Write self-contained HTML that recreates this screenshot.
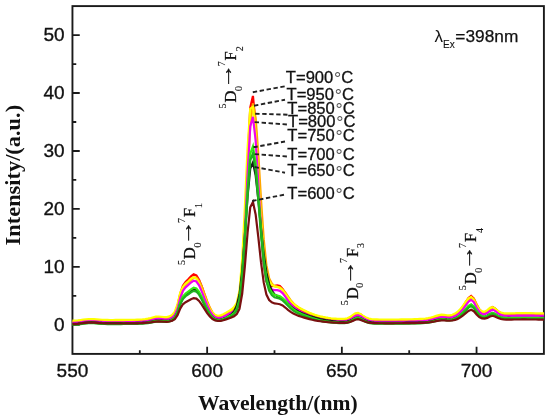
<!DOCTYPE html>
<html><head><meta charset="utf-8"><style>
html,body{margin:0;padding:0;background:#fff;}
svg{display:block;}
.ax text{font-family:"Liberation Sans",Arial,sans-serif;font-size:19px;fill:#111;stroke:#111;stroke-width:0.35px;}
.tl text{font-family:"Liberation Sans",Arial,sans-serif;font-size:16.6px;fill:#111;stroke:#111;stroke-width:0.3px;}
.deg{font-size:18px;fill:#555;stroke:none;}
.tr{font-family:"Liberation Serif","Times New Roman",serif;font-size:16.5px;fill:#111;stroke:#111;stroke-width:0.3px;}
.tr .s{font-size:10px;stroke-width:0.1px;}
.tr .ar{font-size:20px;}
.ttl{font-family:"Liberation Serif","Times New Roman",serif;font-weight:bold;font-size:22px;fill:#111;}
.lam{font-family:"Liberation Sans",Arial,sans-serif;font-size:17px;fill:#111;stroke:#111;stroke-width:0.25px;}
</style></head><body>
<svg width="550" height="418" viewBox="0 0 550 418">
<rect x="0" y="0" width="550" height="418" fill="#fff"/>
<rect x="72.45" y="6.1" width="471.45" height="347.8" fill="none" stroke="#1a1a1a" stroke-width="1.9"/>
<path d="M72.45,324.90h7.3M72.45,266.93h7.3M72.45,208.96h7.3M72.45,150.99h7.3M72.45,93.02h7.3M72.45,35.05h7.3M72.45,295.91h3.8M72.45,237.94h3.8M72.45,179.97h3.8M72.45,122.00h3.8M72.45,64.03h3.8M207.15,353.9v-7.2M341.85,353.9v-7.2M476.55,353.9v-7.2M139.80,353.9v-3.7M274.50,353.9v-3.7M409.20,353.9v-3.7" stroke="#1a1a1a" stroke-width="1.8" fill="none"/>
<g><path d="M72.45,321.97 L75.14,322.04 L77.84,321.84 L80.53,321.46 L83.23,321.08 L85.92,320.77 L88.61,320.54 L91.31,320.45 L94.00,320.53 L96.70,320.73 L99.39,320.97 L102.08,321.18 L104.78,321.32 L107.47,321.39 L110.17,321.42 L112.86,321.42 L115.55,321.41 L118.25,321.39 L120.94,321.37 L123.64,321.34 L126.33,321.31 L129.02,321.27 L131.72,321.22 L134.41,321.16 L137.11,321.07 L139.80,320.94 L142.49,320.73 L145.19,320.42 L147.88,319.96 L150.58,319.33 L153.27,318.58 L155.96,317.89 L158.66,317.59 L161.35,317.80 L164.05,318.17 L166.74,318.24 L169.43,317.69 L172.13,316.24 L174.82,313.20 L177.52,306.01 L180.21,293.69 L182.90,285.76 L185.60,281.88 L188.29,279.23 L190.99,276.44 L193.68,274.30 L196.37,275.32 L199.07,279.63 L201.76,286.41 L204.46,294.37 L207.15,302.07 L209.84,308.44 L212.54,312.99 L215.23,315.65 L217.93,316.69 L220.62,316.46 L223.31,315.36 L226.01,313.78 L228.70,312.11 L231.40,310.69 L234.09,309.43 L236.78,308.13 L239.48,303.78 L242.17,281.48 L244.87,232.29 L247.56,164.29 L250.25,107.55 L252.95,95.92 L255.64,124.81 L258.34,175.73 L261.03,227.33 L263.72,263.89 L266.42,281.53 L269.11,285.94 L271.81,286.06 L274.50,285.80 L277.19,285.38 L279.89,286.06 L282.58,288.83 L285.28,293.21 L287.97,297.86 L290.66,301.83 L293.36,304.88 L296.05,307.21 L298.75,309.13 L301.44,310.82 L304.13,312.36 L306.83,313.75 L309.52,315.00 L312.22,316.10 L314.91,317.05 L317.60,317.86 L320.30,318.53 L322.99,319.09 L325.69,319.53 L328.38,319.88 L331.07,320.15 L333.77,320.35 L336.46,320.48 L339.16,320.56 L341.85,320.55 L344.54,320.38 L347.24,319.86 L349.93,318.68 L352.63,316.70 L355.32,314.47 L358.01,313.57 L360.71,314.71 L363.40,316.74 L366.10,318.57 L368.79,319.78 L371.48,320.43 L374.18,320.73 L376.87,320.87 L379.57,320.93 L382.26,320.97 L384.95,320.99 L387.65,321.00 L390.34,320.99 L393.04,320.98 L395.73,320.96 L398.42,320.93 L401.12,320.89 L403.81,320.84 L406.51,320.79 L409.20,320.73 L411.89,320.65 L414.59,320.56 L417.28,320.46 L419.98,320.34 L422.67,320.17 L425.36,319.92 L428.06,319.52 L430.75,318.91 L433.45,318.07 L436.14,317.11 L438.83,316.23 L441.53,315.67 L444.22,315.68 L446.92,316.12 L449.61,316.32 L452.30,315.88 L455.00,314.73 L457.69,312.83 L460.39,310.11 L463.08,306.50 L465.77,302.21 L468.47,298.12 L471.16,295.95 L473.86,298.65 L476.55,304.72 L479.24,309.44 L481.94,311.89 L484.63,312.35 L487.33,311.02 L490.02,308.51 L492.71,307.09 L495.41,308.77 L498.10,311.38 L500.80,313.09 L503.49,313.81 L506.18,314.02 L508.88,314.05 L511.57,314.02 L514.27,313.99 L516.96,313.95 L519.65,313.92 L522.35,313.91 L525.04,313.91 L527.74,313.92 L530.43,313.95 L533.12,313.97 L535.82,314.00 L538.51,314.02 L541.21,314.04 L543.90,314.07" fill="none" stroke="#ff0000" stroke-width="2.2"/><path d="M72.45,321.97 L75.14,322.05 L77.84,321.85 L80.53,321.47 L83.23,321.09 L85.92,320.77 L88.61,320.55 L91.31,320.46 L94.00,320.54 L96.70,320.73 L99.39,320.98 L102.08,321.19 L104.78,321.33 L107.47,321.40 L110.17,321.43 L112.86,321.43 L115.55,321.42 L118.25,321.41 L120.94,321.39 L123.64,321.36 L126.33,321.34 L129.02,321.30 L131.72,321.26 L134.41,321.20 L137.11,321.13 L139.80,321.02 L142.49,320.85 L145.19,320.59 L147.88,320.20 L150.58,319.66 L153.27,318.98 L155.96,318.29 L158.66,317.87 L161.35,317.94 L164.05,318.29 L166.74,318.47 L169.43,318.16 L172.13,317.09 L174.82,314.82 L177.52,309.63 L180.21,298.98 L182.90,289.58 L185.60,285.23 L188.29,282.60 L190.99,280.06 L193.68,277.62 L196.37,277.56 L199.07,280.74 L201.76,286.51 L204.46,293.79 L207.15,301.21 L209.84,307.63 L212.54,312.43 L215.23,315.44 L217.93,316.84 L220.62,316.94 L223.31,316.11 L226.01,314.71 L228.70,313.10 L231.40,311.51 L234.09,309.66 L236.78,306.18 L239.48,299.77 L242.17,278.93 L244.87,236.05 L247.56,177.68 L250.25,124.82 L252.95,103.45 L255.64,117.79 L258.34,154.61 L261.03,199.76 L263.72,239.15 L266.42,265.18 L269.11,278.18 L271.81,283.54 L274.50,286.17 L277.19,286.91 L279.89,287.54 L282.58,289.27 L285.28,292.48 L287.97,296.39 L290.66,300.14 L293.36,303.27 L296.05,305.72 L298.75,307.67 L301.44,309.31 L304.13,310.78 L306.83,312.13 L309.52,313.37 L312.22,314.51 L314.91,315.54 L317.60,316.46 L320.30,317.26 L322.99,317.95 L325.69,318.54 L328.38,319.03 L331.07,319.44 L333.77,319.76 L336.46,320.01 L339.16,320.18 L341.85,320.28 L344.54,320.25 L347.24,319.94 L349.93,319.09 L352.63,317.48 L355.32,315.37 L358.01,313.99 L360.71,314.59 L363.40,316.39 L366.10,318.24 L368.79,319.56 L371.48,320.32 L374.18,320.68 L376.87,320.84 L379.57,320.92 L382.26,320.97 L384.95,320.99 L387.65,321.00 L390.34,321.00 L393.04,320.99 L395.73,320.98 L398.42,320.95 L401.12,320.92 L403.81,320.88 L406.51,320.83 L409.20,320.78 L411.89,320.71 L414.59,320.63 L417.28,320.54 L419.98,320.43 L422.67,320.29 L425.36,320.09 L428.06,319.76 L430.75,319.25 L433.45,318.53 L436.14,317.64 L438.83,316.78 L441.53,316.14 L444.22,315.96 L446.92,316.32 L449.61,316.63 L452.30,316.41 L455.00,315.53 L457.69,313.98 L460.39,311.67 L463.08,308.52 L465.77,304.64 L468.47,300.62 L471.16,297.86 L473.86,298.67 L476.55,304.08 L479.24,309.08 L481.94,312.00 L484.63,312.97 L487.33,312.21 L490.02,310.05 L492.71,308.08 L495.41,308.86 L498.10,311.32 L500.80,313.24 L503.49,314.16 L506.18,314.45 L508.88,314.51 L511.57,314.50 L514.27,314.46 L516.96,314.43 L519.65,314.40 L522.35,314.38 L525.04,314.38 L527.74,314.39 L530.43,314.41 L533.12,314.43 L535.82,314.46 L538.51,314.48 L541.21,314.50 L543.90,314.52" fill="none" stroke="#ffa500" stroke-width="2.2"/><path d="M72.45,320.53 L75.14,320.60 L77.84,320.40 L80.53,320.02 L83.23,319.64 L85.92,319.32 L88.61,319.10 L91.31,319.01 L94.00,319.09 L96.70,319.29 L99.39,319.53 L102.08,319.74 L104.78,319.88 L107.47,319.95 L110.17,319.98 L112.86,319.98 L115.55,319.97 L118.25,319.95 L120.94,319.93 L123.64,319.91 L126.33,319.88 L129.02,319.84 L131.72,319.80 L134.41,319.73 L137.11,319.65 L139.80,319.52 L142.49,319.31 L145.19,319.01 L147.88,318.56 L150.58,317.96 L153.27,317.27 L155.96,316.69 L158.66,316.52 L161.35,316.77 L164.05,317.08 L166.74,317.05 L169.43,316.42 L172.13,314.88 L174.82,311.64 L177.52,304.00 L180.21,292.78 L182.90,286.75 L185.60,283.61 L188.29,281.23 L190.99,278.68 L193.68,277.16 L196.37,278.73 L199.07,283.15 L201.76,289.63 L204.46,296.90 L207.15,303.70 L209.84,309.17 L212.54,312.94 L215.23,315.04 L217.93,315.73 L220.62,315.33 L223.31,314.21 L226.01,312.72 L228.70,311.15 L231.40,309.57 L234.09,307.11 L236.78,302.78 L239.48,290.74 L242.17,259.12 L244.87,206.98 L247.56,148.36 L250.25,108.67 L252.95,106.93 L255.64,133.83 L258.34,176.60 L261.03,220.20 L263.72,253.31 L266.42,272.46 L269.11,280.96 L271.81,284.82 L274.50,286.30 L277.19,286.83 L279.89,287.83 L282.58,290.29 L285.28,293.84 L287.97,297.64 L290.66,301.00 L293.36,303.68 L296.05,305.78 L298.75,307.49 L301.44,308.98 L304.13,310.34 L306.83,311.60 L309.52,312.76 L312.22,313.81 L314.91,314.75 L317.60,315.58 L320.30,316.30 L322.99,316.92 L325.69,317.44 L328.38,317.87 L331.07,318.22 L333.77,318.50 L336.46,318.70 L339.16,318.84 L341.85,318.88 L344.54,318.74 L347.24,318.22 L349.93,317.04 L352.63,315.16 L355.32,313.26 L358.01,312.86 L360.71,314.17 L363.40,316.05 L366.10,317.61 L368.79,318.61 L371.48,319.12 L374.18,319.35 L376.87,319.46 L379.57,319.52 L382.26,319.55 L384.95,319.57 L387.65,319.57 L390.34,319.57 L393.04,319.56 L395.73,319.54 L398.42,319.51 L401.12,319.47 L403.81,319.43 L406.51,319.38 L409.20,319.32 L411.89,319.25 L414.59,319.17 L417.28,319.08 L419.98,318.96 L422.67,318.80 L425.36,318.55 L428.06,318.15 L430.75,317.55 L433.45,316.76 L436.14,315.89 L438.83,315.14 L441.53,314.70 L444.22,314.84 L446.92,315.24 L449.61,315.31 L452.30,314.79 L455.00,313.61 L457.69,311.76 L460.39,309.12 L463.08,305.69 L465.77,301.75 L468.47,298.26 L471.16,296.84 L473.86,300.38 L476.55,305.84 L479.24,309.71 L481.94,311.55 L484.63,311.64 L487.33,310.14 L490.02,307.83 L492.71,307.08 L495.41,308.99 L498.10,311.26 L500.80,312.62 L503.49,313.14 L506.18,313.28 L508.88,313.29 L511.57,313.26 L514.27,313.23 L516.96,313.20 L519.65,313.18 L522.35,313.16 L525.04,313.17 L527.74,313.18 L530.43,313.21 L533.12,313.23 L535.82,313.25 L538.51,313.27 L541.21,313.29 L543.90,313.32" fill="none" stroke="#ffff00" stroke-width="2.2"/><path d="M72.45,322.85 L75.14,322.92 L77.84,322.72 L80.53,322.34 L83.23,321.96 L85.92,321.65 L88.61,321.42 L91.31,321.33 L94.00,321.41 L96.70,321.61 L99.39,321.85 L102.08,322.06 L104.78,322.20 L107.47,322.28 L110.17,322.30 L112.86,322.31 L115.55,322.30 L118.25,322.28 L120.94,322.26 L123.64,322.24 L126.33,322.21 L129.02,322.18 L131.72,322.13 L134.41,322.08 L137.11,322.00 L139.80,321.88 L142.49,321.70 L145.19,321.42 L147.88,321.02 L150.58,320.46 L153.27,319.79 L155.96,319.18 L158.66,318.92 L161.35,319.11 L164.05,319.43 L166.74,319.49 L169.43,319.01 L172.13,317.73 L174.82,315.04 L177.52,308.69 L180.21,297.79 L182.90,290.78 L185.60,287.35 L188.29,285.00 L190.99,282.54 L193.68,280.64 L196.37,281.54 L199.07,285.35 L201.76,291.35 L204.46,298.39 L207.15,305.19 L209.84,310.83 L212.54,314.85 L215.23,317.21 L217.93,318.12 L220.62,317.92 L223.31,316.94 L226.01,315.54 L228.70,314.05 L231.40,312.70 L234.09,311.18 L236.78,308.81 L239.48,302.33 L242.17,278.98 L244.87,233.04 L247.56,173.79 L250.25,126.43 L252.95,116.79 L255.64,140.35 L258.34,182.85 L261.03,227.67 L263.72,261.62 L266.42,280.32 L269.11,287.30 L271.81,289.44 L274.50,290.18 L277.19,290.21 L279.89,290.86 L282.58,293.11 L285.28,296.68 L287.97,300.60 L290.66,304.06 L293.36,306.79 L296.05,308.89 L298.75,310.60 L301.44,312.10 L304.13,313.45 L306.83,314.70 L309.52,315.83 L312.22,316.84 L314.91,317.74 L317.60,318.52 L320.30,319.19 L322.99,319.75 L325.69,320.21 L328.38,320.58 L331.07,320.88 L333.77,321.11 L336.46,321.28 L339.16,321.38 L341.85,321.40 L344.54,321.29 L347.24,320.85 L349.93,319.82 L352.63,318.08 L355.32,316.12 L358.01,315.33 L360.71,316.34 L363.40,318.14 L366.10,319.76 L368.79,320.84 L371.48,321.41 L374.18,321.68 L376.87,321.80 L379.57,321.86 L382.26,321.90 L384.95,321.91 L387.65,321.92 L390.34,321.92 L393.04,321.91 L395.73,321.89 L398.42,321.86 L401.12,321.83 L403.81,321.79 L406.51,321.74 L409.20,321.69 L411.89,321.62 L414.59,321.54 L417.28,321.45 L419.98,321.34 L422.67,321.20 L425.36,320.97 L428.06,320.62 L430.75,320.08 L433.45,319.34 L436.14,318.49 L438.83,317.72 L441.53,317.21 L444.22,317.23 L446.92,317.62 L449.61,317.79 L452.30,317.40 L455.00,316.38 L457.69,314.71 L460.39,312.30 L463.08,309.11 L465.77,305.32 L468.47,301.70 L471.16,299.79 L473.86,302.17 L476.55,307.54 L479.24,311.71 L481.94,313.88 L484.63,314.29 L487.33,313.11 L490.02,310.89 L492.71,309.63 L495.41,311.12 L498.10,313.42 L500.80,314.94 L503.49,315.58 L506.18,315.76 L508.88,315.79 L511.57,315.77 L514.27,315.73 L516.96,315.70 L519.65,315.68 L522.35,315.66 L525.04,315.66 L527.74,315.68 L530.43,315.70 L533.12,315.72 L535.82,315.74 L538.51,315.76 L541.21,315.78 L543.90,315.81" fill="none" stroke="#f000f0" stroke-width="2.2"/><path d="M72.45,323.73 L75.14,323.80 L77.84,323.60 L80.53,323.22 L83.23,322.84 L85.92,322.53 L88.61,322.31 L91.31,322.22 L94.00,322.30 L96.70,322.50 L99.39,322.74 L102.08,322.95 L104.78,323.09 L107.47,323.17 L110.17,323.20 L112.86,323.20 L115.55,323.20 L118.25,323.18 L120.94,323.17 L123.64,323.15 L126.33,323.13 L129.02,323.10 L131.72,323.07 L134.41,323.02 L137.11,322.96 L139.80,322.86 L142.49,322.72 L145.19,322.49 L147.88,322.16 L150.58,321.71 L153.27,321.18 L155.96,320.69 L158.66,320.48 L161.35,320.62 L164.05,320.88 L166.74,320.94 L169.43,320.55 L172.13,319.51 L174.82,317.34 L177.52,312.22 L180.21,303.43 L182.90,297.77 L185.60,295.01 L188.29,293.12 L190.99,291.13 L193.68,289.60 L196.37,290.32 L199.07,293.39 L201.76,298.23 L204.46,303.91 L207.15,309.40 L209.84,313.94 L212.54,317.18 L215.23,319.08 L217.93,319.82 L220.62,319.65 L223.31,318.85 L226.01,317.67 L228.70,316.27 L231.40,314.48 L234.09,311.37 L236.78,305.52 L239.48,294.55 L242.17,271.10 L244.87,235.41 L247.56,196.54 L250.25,168.45 L252.95,162.58 L255.64,175.22 L258.34,199.69 L261.03,228.30 L263.72,253.85 L266.42,272.38 L269.11,283.79 L271.81,290.54 L274.50,294.31 L277.19,296.03 L279.89,297.17 L282.58,298.78 L285.28,301.08 L287.97,303.73 L290.66,306.30 L293.36,308.51 L296.05,310.30 L298.75,311.74 L301.44,312.95 L304.13,314.02 L306.83,315.01 L309.52,315.93 L312.22,316.79 L314.91,317.59 L317.60,318.32 L320.30,318.99 L322.99,319.58 L325.69,320.11 L328.38,320.56 L331.07,320.95 L333.77,321.28 L336.46,321.55 L339.16,321.75 L341.85,321.89 L344.54,321.89 L347.24,321.62 L349.93,320.86 L352.63,319.52 L355.32,317.98 L358.01,317.39 L360.71,318.24 L363.40,319.72 L366.10,321.05 L368.79,321.93 L371.48,322.41 L374.18,322.63 L376.87,322.74 L379.57,322.79 L382.26,322.82 L384.95,322.84 L387.65,322.85 L390.34,322.85 L393.04,322.84 L395.73,322.83 L398.42,322.81 L401.12,322.79 L403.81,322.76 L406.51,322.72 L409.20,322.67 L411.89,322.62 L414.59,322.56 L417.28,322.49 L419.98,322.40 L422.67,322.28 L425.36,322.11 L428.06,321.82 L430.75,321.39 L433.45,320.79 L436.14,320.11 L438.83,319.48 L441.53,319.08 L444.22,319.09 L446.92,319.41 L449.61,319.54 L452.30,319.23 L455.00,318.41 L457.69,317.06 L460.39,315.12 L463.08,312.54 L465.77,309.49 L468.47,306.58 L471.16,305.03 L473.86,306.95 L476.55,311.28 L479.24,314.64 L481.94,316.40 L484.63,316.73 L487.33,315.78 L490.02,313.98 L492.71,312.97 L495.41,314.17 L498.10,316.03 L500.80,317.26 L503.49,317.77 L506.18,317.92 L508.88,317.94 L511.57,317.92 L514.27,317.90 L516.96,317.87 L519.65,317.85 L522.35,317.84 L525.04,317.84 L527.74,317.85 L530.43,317.87 L533.12,317.89 L535.82,317.90 L538.51,317.92 L541.21,317.94 L543.90,317.96" fill="none" stroke="#1c1c1c" stroke-width="2.2"/><path d="M72.45,324.30 L75.14,324.38 L77.84,324.18 L80.53,323.80 L83.23,323.42 L85.92,323.11 L88.61,322.88 L91.31,322.79 L94.00,322.87 L96.70,323.07 L99.39,323.31 L102.08,323.53 L104.78,323.67 L107.47,323.74 L110.17,323.77 L112.86,323.78 L115.55,323.77 L118.25,323.76 L120.94,323.74 L123.64,323.72 L126.33,323.70 L129.02,323.67 L131.72,323.63 L134.41,323.58 L137.11,323.51 L139.80,323.41 L142.49,323.25 L145.19,323.01 L147.88,322.66 L150.58,322.18 L153.27,321.61 L155.96,321.08 L158.66,320.85 L161.35,321.01 L164.05,321.29 L166.74,321.35 L169.43,320.93 L172.13,319.82 L174.82,317.50 L177.52,312.01 L180.21,302.60 L182.90,296.54 L185.60,293.58 L188.29,291.55 L190.99,289.42 L193.68,287.79 L196.37,288.56 L199.07,291.85 L201.76,297.04 L204.46,303.11 L207.15,308.99 L209.84,313.86 L212.54,317.33 L215.23,319.37 L217.93,320.16 L220.62,319.98 L223.31,319.14 L226.01,317.91 L228.70,316.56 L231.40,315.14 L234.09,313.03 L236.78,309.03 L239.48,300.17 L242.17,276.73 L244.87,236.64 L247.56,189.40 L250.25,153.64 L252.95,146.35 L255.64,163.40 L258.34,195.21 L261.03,230.59 L263.72,259.82 L266.42,278.55 L269.11,288.04 L271.81,292.61 L274.50,294.79 L277.19,295.56 L279.89,296.34 L282.58,298.10 L285.28,300.84 L287.97,303.95 L290.66,306.84 L293.36,309.22 L296.05,311.09 L298.75,312.60 L301.44,313.89 L304.13,315.05 L306.83,316.12 L309.52,317.11 L312.22,318.02 L314.91,318.85 L317.60,319.59 L320.30,320.24 L322.99,320.81 L325.69,321.29 L328.38,321.70 L331.07,322.04 L333.77,322.31 L336.46,322.52 L339.16,322.67 L341.85,322.75 L344.54,322.69 L347.24,322.35 L349.93,321.49 L352.63,320.02 L355.32,318.34 L358.01,317.67 L360.71,318.57 L363.40,320.13 L366.10,321.54 L368.79,322.47 L371.48,322.97 L374.18,323.21 L376.87,323.32 L379.57,323.37 L382.26,323.40 L384.95,323.42 L387.65,323.42 L390.34,323.42 L393.04,323.41 L395.73,323.40 L398.42,323.38 L401.12,323.35 L403.81,323.31 L406.51,323.27 L409.20,323.23 L411.89,323.17 L414.59,323.10 L417.28,323.03 L419.98,322.93 L422.67,322.81 L425.36,322.61 L428.06,322.31 L430.75,321.84 L433.45,321.20 L436.14,320.47 L438.83,319.80 L441.53,319.37 L444.22,319.38 L446.92,319.72 L449.61,319.87 L452.30,319.53 L455.00,318.65 L457.69,317.21 L460.39,315.13 L463.08,312.37 L465.77,309.09 L468.47,305.97 L471.16,304.32 L473.86,306.37 L476.55,311.01 L479.24,314.61 L481.94,316.49 L484.63,316.84 L487.33,315.83 L490.02,313.91 L492.71,312.83 L495.41,314.11 L498.10,316.10 L500.80,317.41 L503.49,317.96 L506.18,318.12 L508.88,318.14 L511.57,318.12 L514.27,318.09 L516.96,318.07 L519.65,318.05 L522.35,318.03 L525.04,318.03 L527.74,318.05 L530.43,318.07 L533.12,318.08 L535.82,318.10 L538.51,318.12 L541.21,318.14 L543.90,318.16" fill="none" stroke="#33ee11" stroke-width="2.2"/><path d="M72.45,324.60 L75.14,324.67 L77.84,324.47 L80.53,324.10 L83.23,323.72 L85.92,323.40 L88.61,323.18 L91.31,323.09 L94.00,323.17 L96.70,323.37 L99.39,323.61 L102.08,323.82 L104.78,323.97 L107.47,324.04 L110.17,324.07 L112.86,324.08 L115.55,324.07 L118.25,324.06 L120.94,324.04 L123.64,324.02 L126.33,324.00 L129.02,323.97 L131.72,323.94 L134.41,323.89 L137.11,323.83 L139.80,323.74 L142.49,323.59 L145.19,323.37 L147.88,323.05 L150.58,322.60 L153.27,322.07 L155.96,321.59 L158.66,321.38 L161.35,321.53 L164.05,321.78 L166.74,321.83 L169.43,321.45 L172.13,320.42 L174.82,318.28 L177.52,313.22 L180.21,304.53 L182.90,298.94 L185.60,296.21 L188.29,294.34 L190.99,292.37 L193.68,290.86 L196.37,291.58 L199.07,294.61 L201.76,299.40 L204.46,305.01 L207.15,310.43 L209.84,314.92 L212.54,318.13 L215.23,320.01 L217.93,320.74 L220.62,320.58 L223.31,319.79 L226.01,318.66 L228.70,317.42 L231.40,316.09 L234.09,314.07 L236.78,310.19 L239.48,301.50 L242.17,278.83 L244.87,240.20 L247.56,194.72 L250.25,160.31 L252.95,153.31 L255.64,169.76 L258.34,200.45 L261.03,234.64 L263.72,262.97 L266.42,281.23 L269.11,290.58 L271.81,295.10 L274.50,297.25 L277.19,298.02 L279.89,298.75 L282.58,300.38 L285.28,302.91 L287.97,305.78 L290.66,308.45 L293.36,310.64 L296.05,312.37 L298.75,313.76 L301.44,314.95 L304.13,316.02 L306.83,317.01 L309.52,317.92 L312.22,318.77 L314.91,319.53 L317.60,320.21 L320.30,320.81 L322.99,321.34 L325.69,321.78 L328.38,322.16 L331.07,322.47 L333.77,322.72 L336.46,322.92 L339.16,323.06 L341.85,323.13 L344.54,323.07 L347.24,322.76 L349.93,321.97 L352.63,320.61 L355.32,319.06 L358.01,318.44 L360.71,319.27 L363.40,320.71 L366.10,322.01 L368.79,322.87 L371.48,323.34 L374.18,323.55 L376.87,323.65 L379.57,323.70 L382.26,323.73 L384.95,323.75 L387.65,323.75 L390.34,323.75 L393.04,323.74 L395.73,323.73 L398.42,323.71 L401.12,323.68 L403.81,323.65 L406.51,323.61 L409.20,323.57 L411.89,323.52 L414.59,323.46 L417.28,323.39 L419.98,323.30 L422.67,323.18 L425.36,323.00 L428.06,322.72 L430.75,322.29 L433.45,321.70 L436.14,321.03 L438.83,320.41 L441.53,320.01 L444.22,320.02 L446.92,320.33 L449.61,320.47 L452.30,320.16 L455.00,319.35 L457.69,318.02 L460.39,316.09 L463.08,313.55 L465.77,310.53 L468.47,307.65 L471.16,306.12 L473.86,308.02 L476.55,312.30 L479.24,315.62 L481.94,317.35 L484.63,317.68 L487.33,316.74 L490.02,314.97 L492.71,313.97 L495.41,315.15 L498.10,316.99 L500.80,318.20 L503.49,318.71 L506.18,318.85 L508.88,318.87 L511.57,318.86 L514.27,318.83 L516.96,318.81 L519.65,318.79 L522.35,318.78 L525.04,318.78 L527.74,318.79 L530.43,318.81 L533.12,318.82 L535.82,318.84 L538.51,318.86 L541.21,318.87 L543.90,318.89" fill="none" stroke="#20b020" stroke-width="2.2"/><path d="M72.45,324.03 L75.14,324.11 L77.84,323.91 L80.53,323.53 L83.23,323.15 L85.92,322.84 L88.61,322.61 L91.31,322.53 L94.00,322.60 L96.70,322.81 L99.39,323.05 L102.08,323.27 L104.78,323.41 L107.47,323.49 L110.17,323.52 L112.86,323.52 L115.55,323.52 L118.25,323.51 L120.94,323.50 L123.64,323.49 L126.33,323.47 L129.02,323.45 L131.72,323.42 L134.41,323.39 L137.11,323.34 L139.80,323.27 L142.49,323.16 L145.19,322.99 L147.88,322.74 L150.58,322.40 L153.27,321.99 L155.96,321.62 L158.66,321.46 L161.35,321.57 L164.05,321.77 L166.74,321.81 L169.43,321.51 L172.13,320.73 L174.82,319.09 L177.52,315.20 L180.21,308.54 L182.90,304.26 L185.60,302.16 L188.29,300.73 L190.99,299.23 L193.68,298.07 L196.37,298.62 L199.07,300.95 L201.76,304.61 L204.46,308.91 L207.15,313.07 L209.84,316.51 L212.54,318.97 L215.23,320.41 L217.93,320.97 L220.62,320.85 L223.31,320.25 L226.01,319.39 L228.70,318.45 L231.40,317.54 L234.09,316.31 L236.78,314.13 L239.48,308.98 L242.17,293.75 L244.87,266.33 L247.56,232.97 L250.25,207.24 L252.95,202.00 L255.64,214.46 L258.34,237.40 L261.03,262.41 L263.72,282.40 L266.42,294.51 L269.11,300.03 L271.81,302.38 L274.50,303.43 L277.19,303.73 L279.89,304.20 L282.58,305.48 L285.28,307.51 L287.97,309.78 L290.66,311.85 L293.36,313.53 L296.05,314.84 L298.75,315.90 L301.44,316.81 L304.13,317.63 L306.83,318.39 L309.52,319.09 L312.22,319.73 L314.91,320.30 L317.60,320.81 L320.30,321.25 L322.99,321.63 L325.69,321.96 L328.38,322.22 L331.07,322.44 L333.77,322.61 L336.46,322.74 L339.16,322.83 L341.85,322.87 L344.54,322.82 L347.24,322.57 L349.93,321.95 L352.63,320.90 L355.32,319.71 L358.01,319.23 L360.71,319.86 L363.40,320.96 L366.10,321.96 L368.79,322.62 L371.48,322.97 L374.18,323.13 L376.87,323.21 L379.57,323.25 L382.26,323.27 L384.95,323.28 L387.65,323.28 L390.34,323.28 L393.04,323.28 L395.73,323.26 L398.42,323.25 L401.12,323.23 L403.81,323.20 L406.51,323.18 L409.20,323.14 L411.89,323.10 L414.59,323.06 L417.28,323.00 L419.98,322.93 L422.67,322.84 L425.36,322.71 L428.06,322.49 L430.75,322.16 L433.45,321.71 L436.14,321.19 L438.83,320.72 L441.53,320.41 L444.22,320.42 L446.92,320.66 L449.61,320.76 L452.30,320.53 L455.00,319.91 L457.69,318.88 L460.39,317.41 L463.08,315.46 L465.77,313.14 L468.47,310.94 L471.16,309.76 L473.86,311.22 L476.55,314.50 L479.24,317.05 L481.94,318.38 L484.63,318.63 L487.33,317.91 L490.02,316.55 L492.71,315.78 L495.41,316.69 L498.10,318.10 L500.80,319.03 L503.49,319.42 L506.18,319.53 L508.88,319.54 L511.57,319.53 L514.27,319.51 L516.96,319.49 L519.65,319.48 L522.35,319.47 L525.04,319.47 L527.74,319.48 L530.43,319.49 L533.12,319.50 L535.82,319.51 L538.51,319.53 L541.21,319.54 L543.90,319.55" fill="none" stroke="#7a1010" stroke-width="2.2"/></g>
<g stroke="#222" stroke-width="1.9" stroke-dasharray="4.4,2.6"><line x1="252.8" y1="92.2" x2="285.7" y2="86.2"/><line x1="254" y1="105.7" x2="285" y2="99.7"/><line x1="255.2" y1="113.7" x2="287.5" y2="114.7"/><line x1="254.6" y1="122.1" x2="286.9" y2="124.5"/><line x1="253.4" y1="147.3" x2="285" y2="141.5"/><line x1="254.6" y1="154.1" x2="286.9" y2="156.5"/><line x1="254.6" y1="167" x2="285" y2="172.7"/><line x1="252.2" y1="201" x2="285" y2="194.5"/></g>
<g class="ax"><text x="64.6" y="330.80" text-anchor="end">0</text><text x="64.6" y="272.83" text-anchor="end">10</text><text x="64.6" y="214.86" text-anchor="end">20</text><text x="64.6" y="156.89" text-anchor="end">30</text><text x="64.6" y="98.92" text-anchor="end">40</text><text x="64.6" y="40.95" text-anchor="end">50</text><text x="72.45" y="377.2" text-anchor="middle">550</text><text x="207.15" y="377.2" text-anchor="middle">600</text><text x="341.85" y="377.2" text-anchor="middle">650</text><text x="476.55" y="377.2" text-anchor="middle">700</text></g>
<g class="tl"><text x="285.8" y="82.5">T=<tspan>900</tspan><tspan class="deg" dx="0.8" dy="2.4">&#176;</tspan><tspan dy="-2.4">C</tspan></text><text x="286.5" y="99.9">T=<tspan>950</tspan><tspan class="deg" dx="0.8" dy="2.4">&#176;</tspan><tspan dy="-2.4">C</tspan></text><text x="287.3" y="113.6">T=<tspan>850</tspan><tspan class="deg" dx="0.8" dy="2.4">&#176;</tspan><tspan dy="-2.4">C</tspan></text><text x="288" y="127">T=<tspan>800</tspan><tspan class="deg" dx="0.8" dy="2.4">&#176;</tspan><tspan dy="-2.4">C</tspan></text><text x="287.3" y="141">T=<tspan>750</tspan><tspan class="deg" dx="0.8" dy="2.4">&#176;</tspan><tspan dy="-2.4">C</tspan></text><text x="287.3" y="159.9">T=<tspan>700</tspan><tspan class="deg" dx="0.8" dy="2.4">&#176;</tspan><tspan dy="-2.4">C</tspan></text><text x="287.3" y="176.4">T=<tspan>650</tspan><tspan class="deg" dx="0.8" dy="2.4">&#176;</tspan><tspan dy="-2.4">C</tspan></text><text x="287.3" y="198.5">T=<tspan>600</tspan><tspan class="deg" dx="0.8" dy="2.4">&#176;</tspan><tspan dy="-2.4">C</tspan></text></g>
<g><g transform="translate(195.1,265.1) rotate(-90)" class="tr"><text><tspan class="s" x="0" y="-9.8">5</tspan><tspan x="5.9" y="0">D</tspan><tspan class="s" x="17.5" y="5.8">0</tspan><tspan class="s" x="42.2" y="-10.5">7</tspan><tspan x="48.1" y="0">F</tspan><tspan class="s" x="57.2" y="6.8">1</tspan></text><text class="ar" transform="translate(19.6,-3.4) scale(1.28,1)">&#8594;</text></g><g transform="translate(235.8,108.5) rotate(-90)" class="tr"><text><tspan class="s" x="0" y="-9.8">5</tspan><tspan x="5.9" y="0">D</tspan><tspan class="s" x="17.5" y="5.8">0</tspan><tspan class="s" x="42.2" y="-10.5">7</tspan><tspan x="48.1" y="0">F</tspan><tspan class="s" x="57.2" y="6.8">2</tspan></text><text class="ar" transform="translate(19.6,-3.4) scale(1.28,1)">&#8594;</text></g><g transform="translate(357.5,305.2) rotate(-90)" class="tr"><text><tspan class="s" x="0" y="-9.8">5</tspan><tspan x="5.9" y="0">D</tspan><tspan class="s" x="17.5" y="5.8">0</tspan><tspan class="s" x="42.2" y="-10.5">7</tspan><tspan x="48.1" y="0">F</tspan><tspan class="s" x="57.2" y="6.8">3</tspan></text><text class="ar" transform="translate(19.6,-3.4) scale(1.28,1)">&#8594;</text></g><g transform="translate(476.1,290.2) rotate(-90)" class="tr"><text><tspan class="s" x="0" y="-9.8">5</tspan><tspan x="5.9" y="0">D</tspan><tspan class="s" x="17.5" y="5.8">0</tspan><tspan class="s" x="42.2" y="-10.5">7</tspan><tspan x="48.1" y="0">F</tspan><tspan class="s" x="57.2" y="6.8">4</tspan></text><text class="ar" transform="translate(19.6,-3.4) scale(1.28,1)">&#8594;</text></g></g>
<text class="ttl" x="198" y="409.6" textLength="159.6" lengthAdjust="spacingAndGlyphs">Wavelength/(nm)</text>
<text class="ttl" transform="translate(20.3,245.4) rotate(-90)" textLength="140.5" lengthAdjust="spacingAndGlyphs">Intensity/(a.u.)</text>
<text class="lam" x="434.6" y="42"><tspan style="stroke-width:0">&#955;</tspan><tspan style="font-size:10px;stroke-width:0.1px" dy="5.6">Ex</tspan><tspan dx="0.6" dy="-5.6" style="font-size:17.3px">=398nm</tspan></text>
</svg>
</body></html>
